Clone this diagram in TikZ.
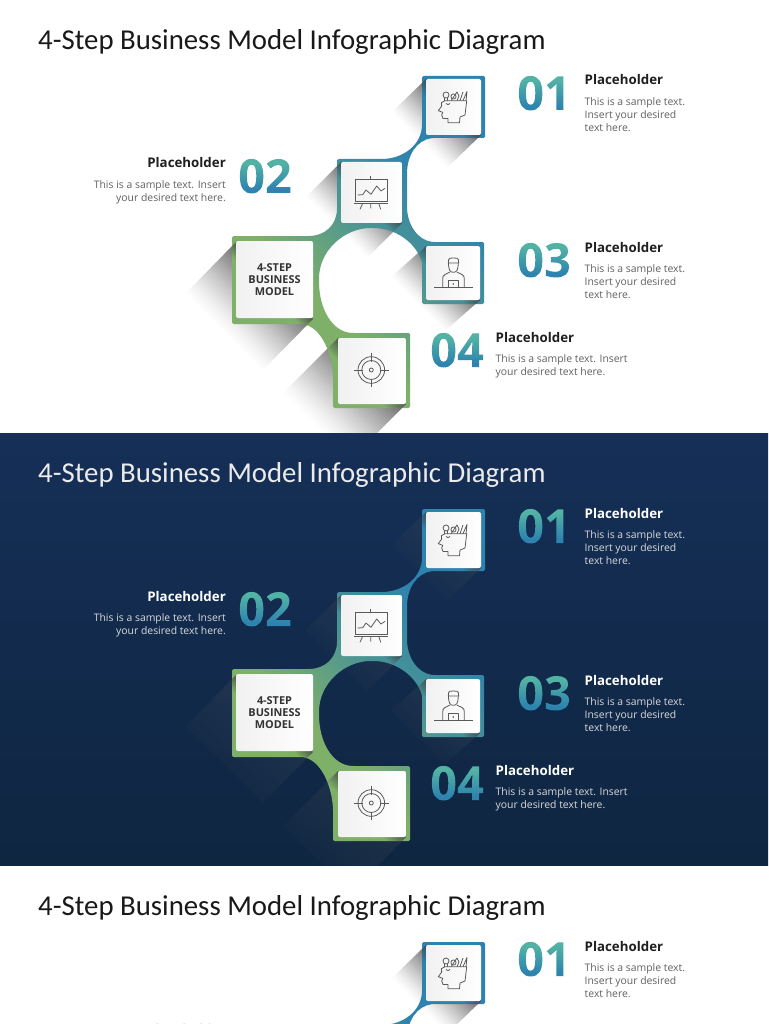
\documentclass[tikz,border=0pt]{standalone}
\usepackage{fontspec}
\setmainfont{Open Sans}
\newfontfamily\titlefont{Carlito}
\definecolor{numblue}{HTML}{2E84AE}
\definecolor{numteal}{HTML}{52B2A4}
\definecolor{ribg}{HTML}{7FB069}
\definecolor{ribt}{HTML}{4A9494}
\definecolor{ribb}{HTML}{2E82AE}
\definecolor{darktop}{HTML}{152F57}
\definecolor{darkbot}{HTML}{0F2641}
\definecolor{boxend}{HTML}{F1F1F1}
\definecolor{iconcol}{HTML}{5A5A5A}
\pgfdeclareverticalshading{numgrad}{70bp}{color(0bp)=(numblue); color(8bp)=(numblue); color(34bp)=(numteal); color(44bp)=(numteal)}
\pgfdeclarehorizontalshading{ribgrad}{100bp}{color(0bp)=(ribg); color(38bp)=(ribg); color(53bp)=(ribt); color(67bp)=(ribb); color(100bp)=(ribb)}
\newcommand{\gradnum}[1]{\special{pdf:code q 7 Tr}\rlap{\fontsize{47}{47}\selectfont\bfseries #1}\special{pdf:code n}\rlap{\lower4bp\hbox{\pgfuseshading{numgrad}}}\special{pdf:code Q}\hphantom{\fontsize{47}{47}\selectfont\bfseries #1}}
% long shadow below the ribbon
\newcommand{\longshadow}[6]{%
  \foreach \i in {0,...,31}{%
    \pgfmathsetmacro{\ta}{\i/32}%
    \pgfmathsetmacro{\tb}{(\i+1)/32}%
    \pgfmathsetmacro{\op}{\shadowalpha*(1-\shadowfade*\ta)^\shadowpow}%
    \fill[shadowcol,opacity=\op] ({#1+\ta*#5},{#2+\ta*#6}) -- ({#3+\ta*#5},{#4+\ta*#6}) -- ({#3+\tb*#5},{#4+\tb*#6}) -- ({#1+\tb*#5},{#2+\tb*#6}) -- cycle;
  }}
% short dark shadow lying on the ribbon
\newcommand{\shortshadow}[6]{%
  \foreach \i in {0,...,7}{%
    \pgfmathsetmacro{\ta}{\i/8}%
    \pgfmathsetmacro{\tb}{(\i+1)/8}%
    \pgfmathsetmacro{\op}{0.72*(1-\ta)}%
    \fill[black!75,opacity=\op] ({#1+\ta*#5},{#2+\ta*#6}) -- ({#3+\ta*#5},{#4+\ta*#6}) -- ({#3+\tb*#5},{#4+\tb*#6}) -- ({#1+\tb*#5},{#2+\tb*#6}) -- cycle;
  }}
\def\ribbonpath{(232,236) -- (307,236) .. controls (325,236) and (337,225) .. (337,207)
    -- (337,159) -- (380,159) .. controls (403,159) and (422,145) .. (422,123)
    -- (422,76) -- (485,76) -- (485,138) -- (433,138)
    .. controls (417,140) and (407,155) .. (407,175) -- (407,205)
    .. controls (407,225) and (418,240) .. (433,242)
    -- (484,242) -- (484,304) -- (422,304) -- (422,262)
    .. controls (415,242) and (395,228) .. (372,228)
    .. controls (345,228) and (319,250) .. (319,280)
    .. controls (319,310) and (333,332) .. (353,333)
    -- (410,333) -- (410,408) -- (333,408) -- (333,375)
    .. controls (331,350) and (320,327) .. (302,324)
    -- (232,324) -- cycle}
\newcommand{\slidecontent}[2]{%
\begin{scope}[yshift=-#2pt]
  % long shadows
  \longshadow{426}{79}{481}{135}{-34}{33}
  \longshadow{341}{162}{402}{223}{-35}{35}
  \longshadow{426}{246}{480}{300}{-35}{31}
  \longshadow{236}{242}{313}{319}{-50}{51}
  \longshadow{338}{338}{406}{404}{-55}{55}
  % ribbon
  \shade[shading=ribgrad,shading angle=45,rounded corners=1.5pt] \ribbonpath;
  \begin{scope}
    \clip \ribbonpath;
    \shortshadow{426}{79}{481}{135}{-9}{9}
    \shortshadow{341}{162}{402}{223}{-9}{9}
    \shortshadow{426}{246}{480}{300}{-9}{9}
    \shortshadow{236}{242}{313}{319}{-9}{9}
    \shortshadow{338}{338}{406}{404}{-11}{11}
  \end{scope}
  % cards
  \node[whitebox,minimum width=55pt,minimum height=56pt] (#1a) at (453.5,107) {};
  \node[whitebox,minimum width=61pt,minimum height=61pt] (#1b) at (371.5,192.5) {};
  \node[whitebox,minimum width=54pt,minimum height=54pt] (#1c) at (453,273) {};
  \node[whitebox,minimum width=77pt,minimum height=77pt,align=center,font=\fontsize{10.9}{12}\selectfont\bfseries,text=centertext] (#1m) at (274.5,279.5) {4-STEP\\BUSINESS\\MODEL};
  \node[whitebox,minimum width=68pt,minimum height=66pt] (#1d) at (372,371) {};
  % icon: head
  \begin{scope}[iconline]
    \draw (466.7,100.7) -- (465,115) -- (460,117) -- (459.5,122.7) -- (448,122.7) -- (448,118.5) -- (443,118.5) -- (441.7,115) -- (442.7,112.3) -- (438.3,110.7) -- (441.7,106) -- (441.3,102.7) -- (445,100.7) -- cycle;
    \draw (446,103.5) .. controls (447,105) and (449,105) .. (450,103.5);
    \draw (446,95) circle (3);
    \draw (444.5,98) -- (444.5,100.7) (447.5,98) -- (447.5,100.7);
    \draw (453.5,96.5) circle (2.6);
    \draw (451,100.7) -- (457,92) -- (459,96) -- (457,100.7);
    \draw (460,100.7) -- (463,92);
    \draw (463,100.7) -- (467,91.5) -- (466,100.7);
  % icon: easel
    \draw (355,179.3) rectangle (387.7,201.7);
    \draw (370.7,175.7) -- (370.7,179.3);
    \draw (354.3,203.3) -- (388.3,203.3);
    \draw (362.7,203.3) -- (360,209.3) (370.7,203.3) -- (370.7,208.5) (378.7,203.3) -- (380.7,209.3);
    \draw (357.7,195) -- (362.7,194.7) -- (366,190) -- (371,194.3) -- (376.7,186) -- (381,191) -- (385,188.3);
  % icon: person
    \draw (434,287.3) -- (472.7,287.3);
    \draw (448.3,263) .. controls (448,257) and (451,258) .. (453.3,258) .. controls (456,258) and (459,257) .. (458.7,263) -- cycle;
    \draw (448.5,263) .. controls (448.5,270) and (450,272.3) .. (453.3,272.3) .. controls (456.7,272.3) and (458.2,270) .. (458.2,263);
    \draw (450,272) -- (445,274.5) .. controls (443,275.5) and (442.7,277) .. (442.7,279) -- (442.7,287.3);
    \draw (456.7,272) -- (462,274.5) .. controls (464,275.5) and (464.3,277) .. (464.3,279) -- (464.3,287.3);
    \draw (448.3,287.3) -- (448.3,280.7) -- (458.3,280.7) -- (458.3,287.3);
    \fill[iconcol] (453.3,284) circle (0.9);
  % icon: target
    \draw (371.3,370) circle (13.3);
    \draw (371.3,370) circle (9.5);
    \draw (371.3,370) circle (2);
    \draw (354,370) -- (362.5,370) (380,370) -- (388.5,370);
    \draw (371.3,353) -- (371.3,361.5) (371.3,378.5) -- (371.3,387);
  \end{scope}
  % title
  \node[anchor=base west,inner sep=0,text=titlecol,font=\titlefont\fontsize{28.8}{30}\selectfont] (#1t) at (38,49.5) {4-Step Business Model Infographic Diagram};
  % numbers
  \node[anchor=base west,inner sep=0] (#1n1) at (517,110) {\gradnum{01}};
  \node[anchor=base west,inner sep=0] (#1n2) at (238,193) {\gradnum{02}};
  \node[anchor=base west,inner sep=0] (#1n3) at (517,277) {\gradnum{03}};
  \node[anchor=base west,inner sep=0] (#1n4) at (430,367) {\gradnum{04}};
  % headings
  \node[headtxt,anchor=base west] (#1h1) at (584.5,85) {Placeholder};
  \node[headtxt,anchor=base east] (#1h2) at (226,168) {Placeholder};
  \node[headtxt,anchor=base west] (#1h3) at (584.5,252) {Placeholder};
  \node[headtxt,anchor=base west] (#1h4) at (495.5,342) {Placeholder};
  % bodies
  \node[bodytxt,anchor=north west,align=left] (#1p1) at (584.5,97) {This is a sample text.\\Insert your desired\\text here.};
  \node[bodytxt,anchor=north east,align=right] (#1p2) at (226,180) {This is a sample text. Insert\\your desired text here.};
  \node[bodytxt,anchor=north west,align=left] (#1p3) at (584.5,264) {This is a sample text.\\Insert your desired\\text here.};
  \node[bodytxt,anchor=north west,align=left] (#1p4) at (495.5,354) {This is a sample text. Insert\\your desired text here.};
\end{scope}}
\tikzset{
  whitebox/.style={shade,shading angle=45,left color=boxend,right color=white,rounded corners=2pt,inner sep=0pt,outer sep=0pt},
  iconline/.style={draw=iconcol,line width=0.8pt,line join=round},
  headtxt/.style={inner sep=0pt,text=headcol,font=\fontsize{13.3}{15}\selectfont\bfseries},
  bodytxt/.style={inner sep=0pt,text=bodycol,font=\fontsize{10.4}{13.3}\selectfont},
}
\colorlet{centertext}{black!80}
\begin{document}
\begin{tikzpicture}[x=1pt,y=-1pt]
\useasboundingbox (0,0) rectangle (768,1024);
\fill[white] (0,0) rectangle (768,1024);
% slide 1
\colorlet{shadowcol}{black!70}\colorlet{titlecol}{black!90}\colorlet{headcol}{black!88}\colorlet{bodycol}{black!62}
\def\shadowalpha{0.85}\def\shadowfade{0.999}\def\shadowpow{1.4}
\begin{scope}
  \clip (0,0) rectangle (768,433);
  \slidecontent{p}{0}
\end{scope}
% slide 2
\shade[top color=darktop,bottom color=darkbot] (0,433) rectangle (768,865);
\colorlet{shadowcol}{black!60}\colorlet{titlecol}{white!92!black}\colorlet{headcol}{white}\colorlet{bodycol}{white!85!black}
\def\shadowalpha{0.17}\def\shadowfade{0.75}\def\shadowpow{1}
\begin{scope}
  \clip (0,433) rectangle (768,865);
  \slidecontent{q}{433}
\end{scope}
% slide 3
\colorlet{shadowcol}{black!70}\colorlet{titlecol}{black!90}\colorlet{headcol}{black!88}\colorlet{bodycol}{black!62}
\def\shadowalpha{0.85}\def\shadowfade{0.999}\def\shadowpow{1.4}
\begin{scope}
  \clip (0,865) rectangle (768,1024);
  \slidecontent{r}{866}
\end{scope}
\end{tikzpicture}
\end{document}
